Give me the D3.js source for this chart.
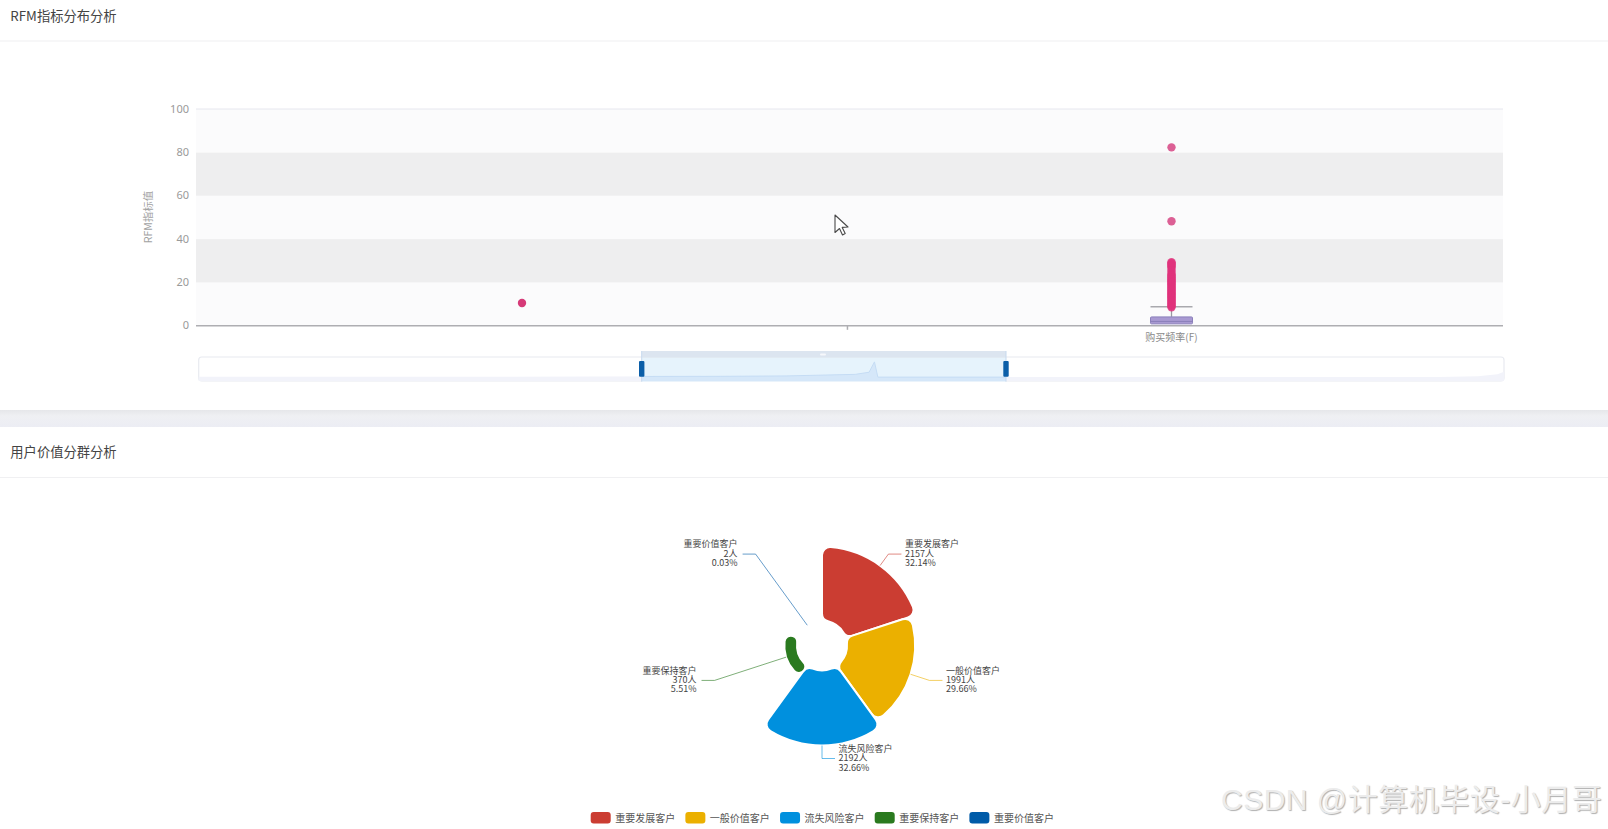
<!DOCTYPE html>
<html lang="zh">
<head>
<meta charset="utf-8">
<script src="https://cdn.jsdelivr.net/npm/d3@7/dist/d3.min.js"></script>
<style>
html,body{margin:0;padding:0;background:#fff;width:1608px;height:829px;overflow:hidden}
body{position:relative;font-family:"Noto Sans CJK SC","Liberation Sans",sans-serif}
svg{position:absolute;left:0;top:0;display:block}
text{font-family:"Noto Sans CJK SC","Liberation Sans",sans-serif}
#wm{position:absolute;left:1221px;top:779px;font-family:"Liberation Sans","Noto Sans CJK SC",sans-serif;font-size:30px;letter-spacing:.5px;line-height:42px;white-space:nowrap;color:#ececec;text-shadow:1px 1px 1px #b0b0b0}
</style>
</head>
<body>
<svg id="c" width="1608" height="829"></svg>
<div id="wm">CSDN @计算机毕设-小月哥</div>
<script>
// ---- data ----
const panelTitles = ["RFM指标分布分析", "用户价值分群分析"];
const yTicks = [0, 20, 40, 60, 80, 100];
const yAxisName = "RFM指标值";
const boxCategories = ["c0", "c1", "购买频率(F)"];
const tickCategories = ["c1"];
const shownLabels = ["购买频率(F)"];
const boxQ = {cat:"购买频率(F)", low:0, q1:0.9, median:2, q3:4.1, high:8.75};
const outlierCats = ["c0","购买频率(F)","购买频率(F)"];
const outlierVals = [10.5, 82.3, 48.2];
const denseVals = [8.5,9,9.5,10,10.5,11,11.5,12,12.5,13,13.5,14,14.5,15,15.5,16,16.5,17,17.5,18,18.5,19,19.5,20,20.5,21,21.5,22,22.5,23,23.5,24,25,26,27,27.5,28,28.5,29,29.3];
const shadowPos = [0,20,30,40,45,50.3,51.36,51.77,52.03,60,70,80,90,95,98,99.5,100];
const shadowVal = [22,22,23,24,26,34,45,98,20,20,20,20,20,21,25,35,48];
const segNames = ["重要发展客户","一般价值客户","流失风险客户","重要保持客户","重要价值客户"];
const segCounts = [2157,1991,2192,370,2];
const segPct = ["32.14%","29.66%","32.66%","5.51%","0.03%"];
const segColors = ["#cb3d32","#ebb000","#0090de","#2a7a1f","#005ba8"];
const watermark = "CSDN @计算机毕设-小月哥";

// ---- layout ----
const svg = d3.select("#c");
const plot = {l:196, r:1503, t:109, b:325.8};
const slider = {l:198.7, r:1504, t:357, b:381, sl:641.7, sr:1006, stripTop:351, stripBot:357.7, base:376.7};
const pie = {cx:822, cy:645.5, r0:25, r1:100, cr:8, lineR:113, len2:13, gapR:3.5, gapL:5};

// page chrome
const defs = svg.append("defs");
const grad = defs.append("linearGradient").attr("id","gap").attr("x1",0).attr("x2",0).attr("y1",0).attr("y2",1);
grad.append("stop").attr("offset","0").attr("stop-color","#e6e7ea");
grad.append("stop").attr("offset","0.35").attr("stop-color","#eff0f3");
grad.append("stop").attr("offset","1").attr("stop-color","#ecedf4");
svg.append("rect").attr("x",0).attr("y",410).attr("width",1608).attr("height",17).attr("fill","url(#gap)");
[41,477.5].forEach(y=>svg.append("line").attr("x1",0).attr("x2",1608).attr("y1",y).attr("y2",y).attr("stroke","#f0f0f2").attr("stroke-width",1.2));
svg.selectAll("text.title").data(panelTitles).join("text").attr("class","title")
  .attr("x",10.3).attr("y",(d,i)=>[20.5,456.7][i]).attr("font-size",13.3).attr("fill","#444").text(d=>d);

// boxplot scales
const y = d3.scaleLinear().domain([0,100]).range([plot.b,plot.t]);
const x = d3.scalePoint().domain(boxCategories).range([522,1171.5]);

// split bands
d3.pairs(yTicks).forEach((p,i)=>{
  svg.append("rect").attr("x",plot.l).attr("width",plot.r-plot.l)
    .attr("y",y(p[1])).attr("height",y(p[0])-y(p[1]))
    .attr("fill",i%2 ? "#eeeeef" : "#fbfbfc");
});
svg.append("line").attr("x1",plot.l).attr("x2",plot.r).attr("y1",y(100)).attr("y2",y(100)).attr("stroke","#e6e7ee");

// y axis
const gy = svg.append("g").attr("transform",`translate(${plot.l},-0.5)`)
  .call(d3.axisLeft(y).tickValues(yTicks).tickSize(0).tickPadding(7));
gy.select(".domain").remove();
gy.selectAll("text").attr("font-size",11).attr("fill","#9a9a9a").style("font-family",'"Noto Sans","Liberation Sans",sans-serif');
svg.append("text").attr("transform",`translate(152,217) rotate(-90)`).attr("text-anchor","middle")
  .attr("font-size",10.5).attr("fill","#a2a2a2").text(yAxisName);

// x axis
svg.append("line").attr("x1",plot.l).attr("x2",plot.r).attr("y1",plot.b).attr("y2",plot.b).attr("stroke","#aeaeb2").attr("stroke-width",1.4);
svg.selectAll("line.xt").data(tickCategories).join("line").attr("class","xt")
  .attr("x1",d=>x(d)+0.7).attr("x2",d=>x(d)+0.7).attr("y1",plot.b).attr("y2",plot.b+4).attr("stroke","#aeaeb2").attr("stroke-width",1.5);
svg.selectAll("text.xl").data(shownLabels).join("text").attr("class","xl")
  .attr("x",d=>x(d)).attr("y",340.5).attr("text-anchor","middle").attr("font-size",10).attr("fill","#8a8a8a").text(d=>d);

// box
const cxb = x(boxQ.cat), hw = 21;
svg.append("line").attr("x1",cxb).attr("x2",cxb).attr("y1",y(boxQ.q3)).attr("y2",y(boxQ.high)).attr("stroke","#9a9aa2").attr("stroke-width",1.3);
svg.append("line").attr("x1",cxb-hw).attr("x2",cxb+hw).attr("y1",y(boxQ.high)).attr("y2",y(boxQ.high)).attr("stroke","#a9a9ae").attr("stroke-width",1.5);
svg.append("rect").attr("x",cxb-hw).attr("width",hw*2).attr("y",y(boxQ.q3)).attr("height",y(boxQ.q1)-y(boxQ.q3))
  .attr("rx",1).attr("fill","#a899d2").attr("stroke","#8b80bb").attr("stroke-width",1);
svg.append("line").attr("x1",cxb-hw).attr("x2",cxb+hw).attr("y1",y(boxQ.median)).attr("y2",y(boxQ.median)).attr("stroke","#8b80bb").attr("stroke-width",1);

// outliers
svg.selectAll("circle.d").data(denseVals).join("circle").attr("class","d")
  .attr("cx",cxb).attr("cy",d=>y(d)).attr("r",4.2).attr("fill","#e0327c").attr("fill-opacity",0.8);
svg.selectAll("circle.o").data(outlierVals).join("circle").attr("class","o")
  .attr("cx",(d,i)=>x(outlierCats[i])).attr("cy",d=>y(d)).attr("r",4.2)
  .attr("fill",(d,i)=>i===0?"#d63a78":"#dc6095");

// cursor
svg.append("path").attr("d","M835,215 L835,232.5 L839.5,228.5 L842.5,235 L845.2,233.6 L842.2,227.4 L848,227 Z")
  .attr("fill","#fff").attr("stroke","#4a4a4a").attr("stroke-width",1.1).attr("stroke-linejoin","round");

// data zoom slider
const sx = d3.scaleLinear().domain([0,100]).range([slider.l,slider.r]);
const sy = d3.scaleLinear().domain([0,100]).range([slider.b,361.5]);
const shadow = shadowPos.map((p,i)=>[p,shadowVal[i]]);
const area = d3.area().x(d=>sx(d[0])).y0(slider.b).y1(d=>sy(d[1]));
const sline = d3.line().x(d=>sx(d[0])).y(d=>sy(d[1]));
svg.append("rect").attr("x",slider.l).attr("y",slider.t).attr("width",slider.r-slider.l).attr("height",slider.b-slider.t)
  .attr("rx",3).attr("fill","#fff").attr("stroke","#e8eaf0").attr("stroke-width",1.2);
svg.append("path").attr("d",area(shadow)).attr("fill","#f2f3fa");
svg.append("rect").attr("x",slider.sl).attr("y",slider.stripBot).attr("width",slider.sr-slider.sl).attr("height",slider.b+0.7-slider.stripBot).attr("fill","#e6f3fc");
svg.append("rect").attr("x",slider.sl).attr("y",slider.stripTop).attr("width",slider.sr-slider.sl).attr("height",slider.stripBot-slider.stripTop).attr("fill","#dce5f0");
svg.append("rect").attr("x",820).attr("y",353.5).attr("width",6).attr("height",2).attr("rx",1).attr("fill","#f6f8fb");
defs.append("clipPath").attr("id","sel").append("rect").attr("x",slider.sl).attr("y",slider.stripBot).attr("width",slider.sr-slider.sl).attr("height",slider.b+0.7-slider.stripBot);
svg.append("path").attr("clip-path","url(#sel)").attr("d",area(shadow)).attr("fill","#d5e7f9");
svg.append("path").attr("clip-path","url(#sel)").attr("d",sline(shadow)).attr("fill","none").attr("stroke","#c5dcf4").attr("stroke-width",1);
[slider.sl,slider.sr].forEach(hx=>{
  svg.append("line").attr("x1",hx).attr("x2",hx).attr("y1",slider.stripTop).attr("y2",slider.b+0.7).attr("stroke","#c7d9ee").attr("stroke-width",1);
  svg.append("rect").attr("x",hx-2.7).attr("y",361).attr("width",5.4).attr("height",15.7).attr("rx",1).attr("fill","#0b5ea8");
});

// rose chart
const rScale = d3.scaleLinear().domain([0,d3.max(segCounts)]).range([pie.r0,pie.r1]);
const segs = segNames.map((n,i)=>({name:n,count:segCounts[i],pct:segPct[i],color:segColors[i]}));
const arcs = d3.pie().sort(null).value(()=>1)(segs);
const arc = d3.arc().innerRadius(pie.r0).outerRadius(d=>rScale(d.data.count)).cornerRadius(pie.cr);
const gp = svg.append("g").attr("transform",`translate(${pie.cx},${pie.cy})`);
gp.selectAll("path.s").data(arcs).join("path").attr("class","s").attr("d",arc)
  .attr("fill",d=>d.data.color).attr("stroke","#fff").attr("stroke-width",2).attr("stroke-linejoin","round");
arcs.forEach(a=>{
  const mid=(a.startAngle+a.endAngle)/2, s=Math.sin(mid), c=-Math.cos(mid);
  const r=rScale(a.data.count);
  const dir = s < -0.01 ? -1 : 1;
  const p2=[pie.lineR*s, pie.lineR*c], p3=[p2[0]+dir*pie.len2, p2[1]];
  gp.append("path").attr("d",d3.line()([[r*s,r*c],p2,p3])).attr("fill","none")
    .attr("stroke",a.data.color).attr("stroke-opacity",0.6).attr("stroke-width",1);
  const t=gp.append("text").attr("text-anchor",dir>0?"start":"end").attr("font-size",9).attr("fill","#444");
  [a.data.name,a.data.count+"人",a.data.pct].forEach((l,k)=>{
    t.append("tspan").attr("x",p3[0]+dir*(dir>0?pie.gapR:pie.gapL)).attr("y",p3[1]+2.7+(k-1)*9.3).text(l);
  });
});

// legend
const lg = svg.selectAll("g.lg").data(segs).join("g").attr("class","lg")
  .attr("transform",(d,i)=>`translate(${590.7+i*94.67},812)`);
lg.append("rect").attr("width",20).attr("height",11.5).attr("rx",3).attr("fill",d=>d.color);
lg.append("text").attr("x",24.5).attr("y",9.5).attr("font-size",10).attr("fill","#555").text(d=>d.name);

d3.select("#wm").text(watermark);
</script>
</body>
</html>
